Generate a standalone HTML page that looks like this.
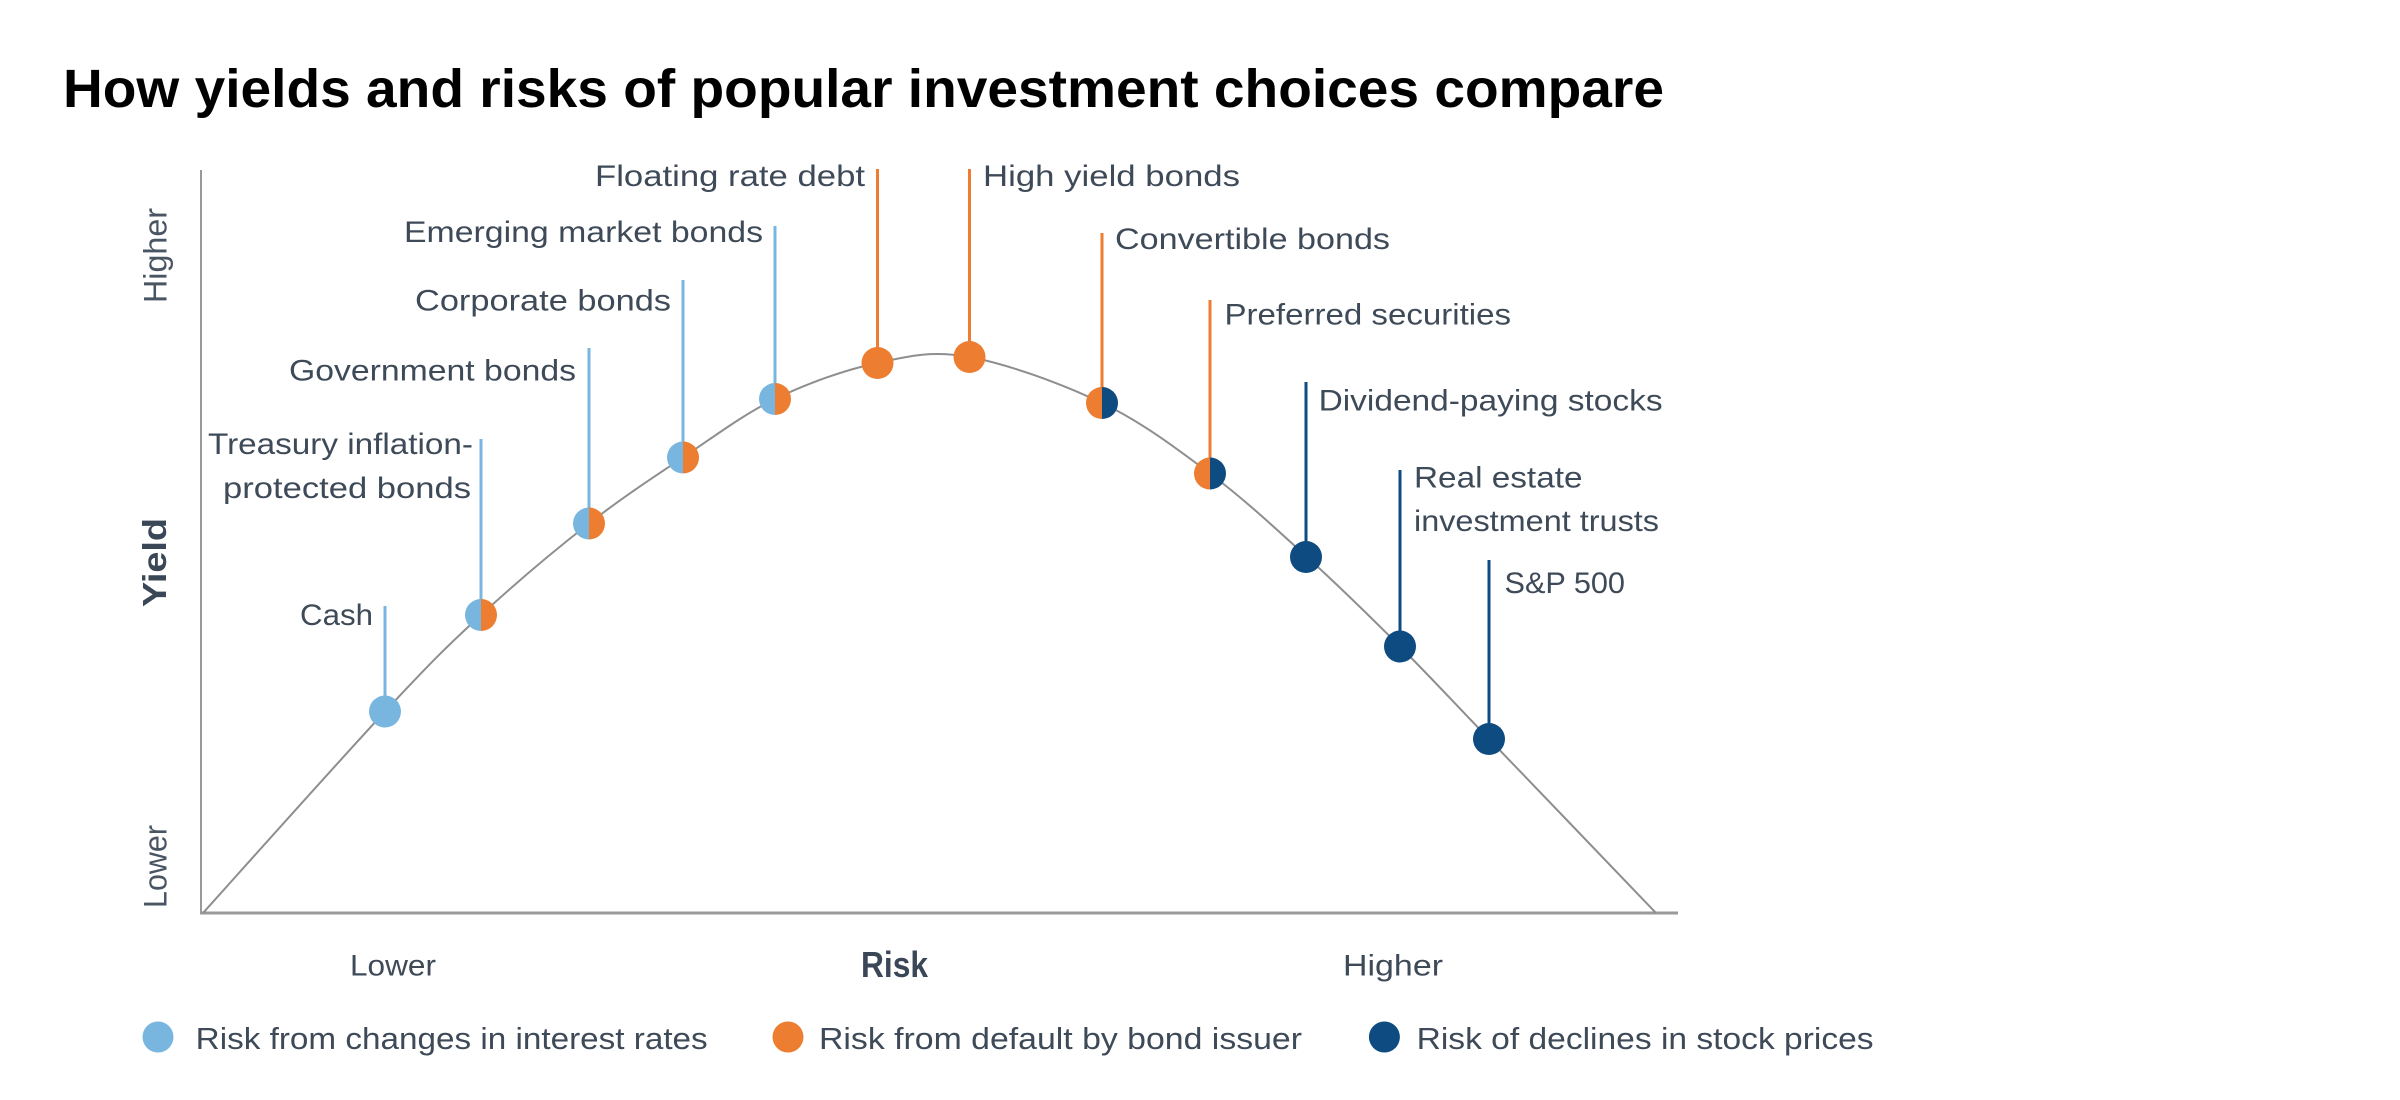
<!DOCTYPE html>
<html>
<head>
<meta charset="utf-8">
<style>
html,body{margin:0;padding:0;background:#fff;}
svg{display:block;}
text{font-family:"Liberation Sans",Arial,sans-serif;}
.lbl{font-size:30px;fill:#3e4a58;}
.leg{font-size:31px;fill:#3e4a58;}
.ax{font-size:32px;fill:#4a5563;}
</style>
</head>
<body>
<svg width="2400" height="1100" viewBox="0 0 2400 1100" xmlns="http://www.w3.org/2000/svg">
<rect width="2400" height="1100" fill="#fff"/>

<!-- Title -->
<text x="63" y="107" font-size="54" font-weight="bold" fill="#000" textLength="1601" lengthAdjust="spacingAndGlyphs">How yields and risks of popular investment choices compare</text>

<!-- Axes -->
<line x1="201" y1="170" x2="201" y2="913" stroke="#9a9a9a" stroke-width="2"/>
<line x1="200" y1="913" x2="1678" y2="913" stroke="#9a9a9a" stroke-width="3"/>

<!-- Y axis labels -->
<text class="ax" transform="translate(166.5,303) rotate(-90)" textLength="95" lengthAdjust="spacingAndGlyphs">Higher</text>
<text class="ax" transform="translate(166.5,908) rotate(-90)" textLength="83" lengthAdjust="spacingAndGlyphs">Lower</text>
<text transform="translate(166,607) rotate(-90)" font-size="33" font-weight="bold" fill="#3a4756" textLength="89" lengthAdjust="spacingAndGlyphs">Yield</text>

<!-- X axis labels -->
<text class="lbl" x="350" y="975.5" textLength="86" lengthAdjust="spacingAndGlyphs">Lower</text>
<text x="861" y="977" font-size="36" font-weight="bold" fill="#3a4756" textLength="67" lengthAdjust="spacingAndGlyphs">Risk</text>
<text class="lbl" x="1343" y="975.5" textLength="100" lengthAdjust="spacingAndGlyphs">Higher</text>

<!-- Leader lines -->
<g stroke-width="3">
<line x1="385" y1="606" x2="385" y2="711.5" stroke="#78b6e0"/>
<line x1="481" y1="439" x2="481" y2="615" stroke="#78b6e0"/>
<line x1="589" y1="348" x2="589" y2="523.5" stroke="#78b6e0"/>
<line x1="683" y1="280" x2="683" y2="457.5" stroke="#78b6e0"/>
<line x1="775" y1="226" x2="775" y2="399" stroke="#78b6e0"/>
<line x1="877.5" y1="169" x2="877.5" y2="363" stroke="#ec7d31"/>
<line x1="969.5" y1="169" x2="969.5" y2="357" stroke="#ec7d31"/>
<line x1="1102" y1="233" x2="1102" y2="403" stroke="#ec7d31"/>
<line x1="1210" y1="300" x2="1210" y2="473.5" stroke="#ec7d31"/>
<line x1="1306" y1="382" x2="1306" y2="557" stroke="#0d4b80"/>
<line x1="1400" y1="470" x2="1400" y2="646.5" stroke="#0d4b80"/>
<line x1="1489" y1="560" x2="1489" y2="739" stroke="#0d4b80"/>
</g>

<!-- Curve -->
<path fill="none" stroke="#8e8e8e" stroke-width="2" d="M203,913
C233.3,879.4 338.7,761.2 385,711.5
C431.3,661.8 447,646.3 481,615
C515,583.7 555.3,549.75 589,523.5
C622.7,497.25 652,478.25 683,457.5
C714,436.75 742.7,414.75 775,399
C807.3,383.25 844.7,370 877,363
C909.3,356 931.5,350.3 969,357
C1006.5,363.67 1061.8,383.6 1102,403
C1142.2,422.4 1175.8,447.8 1210,473.5
C1244.2,499.2 1275.3,528.2 1307,557
C1338.7,585.8 1369.7,616.2 1400,646.5
C1430.3,676.8 1446.3,694.6 1489,739
C1531.7,783.4 1628.2,884 1656,913"/>

<!-- Markers -->
<!-- full light blue -->
<circle cx="385" cy="711.5" r="16" fill="#78b6e0"/>
<!-- blue/orange halves -->
<path d="M481,599 A16,16 0 0 0 481,631 Z" fill="#78b6e0"/><path d="M481,599 A16,16 0 0 1 481,631 Z" fill="#ec7d31"/>
<path d="M589,507.5 A16,16 0 0 0 589,539.5 Z" fill="#78b6e0"/><path d="M589,507.5 A16,16 0 0 1 589,539.5 Z" fill="#ec7d31"/>
<path d="M683,441.5 A16,16 0 0 0 683,473.5 Z" fill="#78b6e0"/><path d="M683,441.5 A16,16 0 0 1 683,473.5 Z" fill="#ec7d31"/>
<path d="M775,383 A16,16 0 0 0 775,415 Z" fill="#78b6e0"/><path d="M775,383 A16,16 0 0 1 775,415 Z" fill="#ec7d31"/>
<!-- full orange -->
<circle cx="877.5" cy="363" r="16" fill="#ec7d31"/>
<circle cx="969.5" cy="357" r="16" fill="#ec7d31"/>
<!-- orange/navy halves -->
<path d="M1102,387 A16,16 0 0 0 1102,419 Z" fill="#ec7d31"/><path d="M1102,387 A16,16 0 0 1 1102,419 Z" fill="#0d4b80"/>
<path d="M1210,457.5 A16,16 0 0 0 1210,489.5 Z" fill="#ec7d31"/><path d="M1210,457.5 A16,16 0 0 1 1210,489.5 Z" fill="#0d4b80"/>
<!-- full navy -->
<circle cx="1306" cy="557" r="16" fill="#0d4b80"/>
<circle cx="1400" cy="646.5" r="16" fill="#0d4b80"/>
<circle cx="1489" cy="739" r="16" fill="#0d4b80"/>

<!-- Labels -->
<text class="lbl" x="595" y="186" textLength="270" lengthAdjust="spacingAndGlyphs">Floating rate debt</text>
<text class="lbl" x="983" y="186" textLength="257" lengthAdjust="spacingAndGlyphs">High yield bonds</text>
<text class="lbl" x="404" y="242" textLength="359" lengthAdjust="spacingAndGlyphs">Emerging market bonds</text>
<text class="lbl" x="415" y="310.5" textLength="256" lengthAdjust="spacingAndGlyphs">Corporate bonds</text>
<text class="lbl" x="289" y="380.5" textLength="287" lengthAdjust="spacingAndGlyphs">Government bonds</text>
<text class="lbl" x="208" y="454" textLength="265" lengthAdjust="spacingAndGlyphs">Treasury inflation-</text>
<text class="lbl" x="223" y="498" textLength="248" lengthAdjust="spacingAndGlyphs">protected bonds</text>
<text class="lbl" x="300" y="625" textLength="73" lengthAdjust="spacingAndGlyphs">Cash</text>
<text class="lbl" x="1115" y="249" textLength="275" lengthAdjust="spacingAndGlyphs">Convertible bonds</text>
<text class="lbl" x="1224.5" y="324.5" textLength="286.5" lengthAdjust="spacingAndGlyphs">Preferred securities</text>
<text class="lbl" x="1318.6" y="410.5" textLength="344" lengthAdjust="spacingAndGlyphs">Dividend-paying stocks</text>
<text class="lbl" x="1414" y="487.6" textLength="168.5" lengthAdjust="spacingAndGlyphs">Real estate</text>
<text class="lbl" x="1414" y="531" textLength="245" lengthAdjust="spacingAndGlyphs">investment trusts</text>
<text class="lbl" x="1504.5" y="593" textLength="120.5" lengthAdjust="spacingAndGlyphs">S&amp;P 500</text>

<!-- Legend -->
<circle cx="158" cy="1037" r="15.5" fill="#78b6e0"/>
<text class="leg" x="195.7" y="1049" textLength="512" lengthAdjust="spacingAndGlyphs">Risk from changes in interest rates</text>
<circle cx="788" cy="1037" r="15.5" fill="#ec7d31"/>
<text class="leg" x="819" y="1049" textLength="483" lengthAdjust="spacingAndGlyphs">Risk from default by bond issuer</text>
<circle cx="1384.4" cy="1037" r="15.5" fill="#0d4b80"/>
<text class="leg" x="1416.6" y="1049" textLength="457" lengthAdjust="spacingAndGlyphs">Risk of declines in stock prices</text>
</svg>
</body>
</html>
